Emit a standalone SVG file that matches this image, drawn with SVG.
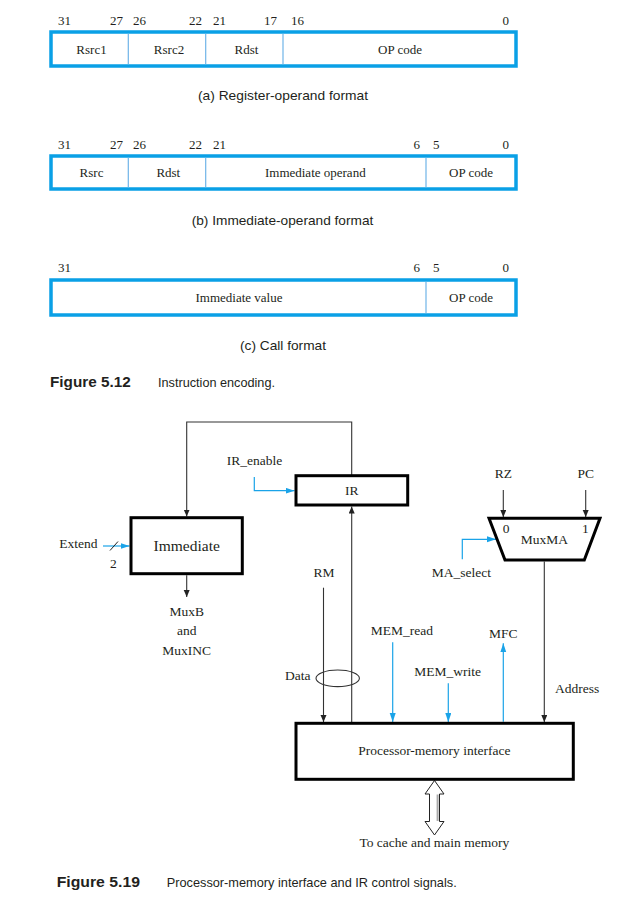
<svg xmlns="http://www.w3.org/2000/svg" width="621" height="901" viewBox="0 0 621 901">
<style>
.s{font-family:"Liberation Serif","Times New Roman",serif;font-size:13px;fill:#231f20}
.l{font-family:"Liberation Serif","Times New Roman",serif;font-size:13.5px;fill:#231f20}
.c{font-family:"Liberation Sans",Arial,sans-serif;font-size:13.5px;fill:#231f20}
.fb{font-family:"Liberation Sans",Arial,sans-serif;font-size:15px;font-weight:bold;fill:#231f20}
.ft{font-family:"Liberation Sans",Arial,sans-serif;font-size:13px;fill:#231f20}
.fmt{fill:#fff;stroke:#0aa0e6;stroke-width:3.5}
.div{stroke:#6fb4e8;stroke-width:1.2}
.box{fill:#fff;stroke:#000;stroke-width:3}
.w{fill:none;stroke:#333;stroke-width:1.1}
.b{fill:none;stroke:#1aa3e8;stroke-width:1.2}
</style>
<defs>
<marker id="ak" markerUnits="userSpaceOnUse" markerWidth="7" markerHeight="7" refX="7" refY="3" orient="auto"><path d="M0,0 L7,3 L0,6 z" fill="#222"/></marker>
<marker id="ab" markerUnits="userSpaceOnUse" markerWidth="9" markerHeight="7" refX="9" refY="3" orient="auto"><path d="M0,0 L9,3 L0,6 z" fill="#1aa3e8"/></marker>
</defs>

<g id="format-a">
<text class="s" x="58" y="25">31</text>
<text class="s" x="123" y="25" text-anchor="end">27</text>
<text class="s" x="133" y="25">26</text>
<text class="s" x="202" y="25" text-anchor="end">22</text>
<text class="s" x="213" y="25">21</text>
<text class="s" x="277" y="25" text-anchor="end">17</text>
<text class="s" x="291" y="25">16</text>
<text class="s" x="509" y="25" text-anchor="end">0</text>
<rect class="fmt" x="51" y="32" width="465" height="34"/>
<line class="div" x1="128.3" y1="33.7" x2="128.3" y2="64.3"/>
<line class="div" x1="205.7" y1="33.7" x2="205.7" y2="64.3"/>
<line class="div" x1="283" y1="33.7" x2="283" y2="64.3"/>
<text class="s" x="91.5" y="53.5" text-anchor="middle">Rsrc1</text>
<text class="s" x="169" y="53.5" text-anchor="middle">Rsrc2</text>
<text class="s" x="246.5" y="53.5" text-anchor="middle">Rdst</text>
<text class="s" x="400" y="53.5" text-anchor="middle">OP code</text>
<text class="c" x="283" y="99.5" text-anchor="middle" textLength="170" lengthAdjust="spacingAndGlyphs">(a) Register-operand format</text>
</g>

<g id="format-b">
<text class="s" x="58" y="149">31</text>
<text class="s" x="123" y="149" text-anchor="end">27</text>
<text class="s" x="133" y="149">26</text>
<text class="s" x="202" y="149" text-anchor="end">22</text>
<text class="s" x="213" y="149">21</text>
<text class="s" x="420" y="149" text-anchor="end">6</text>
<text class="s" x="433" y="149">5</text>
<text class="s" x="509" y="149" text-anchor="end">0</text>
<rect class="fmt" x="51" y="156" width="465" height="33"/>
<line class="div" x1="128.3" y1="157.7" x2="128.3" y2="187.3"/>
<line class="div" x1="205.7" y1="157.7" x2="205.7" y2="187.3"/>
<line class="div" x1="426" y1="157.7" x2="426" y2="187.3"/>
<text class="s" x="91.5" y="177" text-anchor="middle">Rsrc</text>
<text class="s" x="168.3" y="177" text-anchor="middle">Rdst</text>
<text class="s" x="315.3" y="177" text-anchor="middle">Immediate operand</text>
<text class="s" x="471" y="177" text-anchor="middle">OP code</text>
<text class="c" x="282.5" y="225" text-anchor="middle" textLength="181.6" lengthAdjust="spacingAndGlyphs">(b) Immediate-operand format</text>
</g>

<g id="format-c">
<text class="s" x="58" y="272.3">31</text>
<text class="s" x="420" y="272.3" text-anchor="end">6</text>
<text class="s" x="433" y="272.3">5</text>
<text class="s" x="509" y="272.3" text-anchor="end">0</text>
<rect class="fmt" x="51" y="280" width="465" height="35"/>
<line class="div" x1="426" y1="281.7" x2="426" y2="313.3"/>
<text class="s" x="239" y="302" text-anchor="middle">Immediate value</text>
<text class="s" x="471" y="302" text-anchor="middle">OP code</text>
<text class="c" x="283" y="350" text-anchor="middle" textLength="86" lengthAdjust="spacingAndGlyphs">(c) Call format</text>
</g>

<g id="caption-512">
<text class="fb" x="50" y="387" textLength="80.7" lengthAdjust="spacingAndGlyphs">Figure 5.12</text>
<text class="ft" x="158" y="387" textLength="117" lengthAdjust="spacingAndGlyphs">Instruction encoding.</text>
</g>

<g id="connectors">
<path class="w" d="M351.7,475.7 V422 H186.7 V516.5" marker-end="url(#ak)"/>
<path class="w" d="M351.7,723 V506.5" marker-end="url(#ak)"/>
<path class="w" d="M186.7,575.3 V597" marker-end="url(#ak)"/>
<path class="b" d="M103,546 H129.5" marker-end="url(#ab)"/>
<line x1="110" y1="550.5" x2="118" y2="541.5" stroke="#222" stroke-width="1"/>
<path class="b" d="M254.3,477 V490.7 H294.5" marker-end="url(#ab)"/>
<path class="b" d="M462.3,559.3 V539.3 H496" marker-end="url(#ab)"/>
<path class="w" d="M503.3,490 V517" marker-end="url(#ak)"/>
<path class="w" d="M585.7,490 V517" marker-end="url(#ak)"/>
<path class="w" d="M544.3,561.5 V722" marker-end="url(#ak)"/>
<path class="b" d="M503.3,721.8 V643.3" marker-end="url(#ab)"/>
<path class="b" d="M392.7,642.3 V722" marker-end="url(#ab)"/>
<path class="b" d="M448.3,683.3 V722" marker-end="url(#ab)"/>
<path class="w" d="M323.5,587.7 V722" marker-end="url(#ak)" stroke="#555"/>
<ellipse cx="337.7" cy="678.3" rx="21.7" ry="8.3" fill="none" stroke="#333" stroke-width="1.1"/>
<polygon points="434.5,780.5 425,794 429.5,794 429.5,821.5 425,821.5 434.5,835 444,821.5 439.5,821.5 439.5,794 444,794" fill="#fff" stroke="#222" stroke-width="1"/>
<line x1="437.6" y1="794.5" x2="437.6" y2="821" stroke="#aaa" stroke-width="2"/>
</g>

<g id="ir">
<rect class="box" x="296" y="475.7" width="111.7" height="29.3"/>
<text class="l" x="351.7" y="495" text-anchor="middle">IR</text>
</g>
<g id="ir-enable"><text class="l" x="226.7" y="465">IR_enable</text></g>

<g id="immediate">
<rect class="box" x="131" y="517.7" width="111.3" height="56"/>
<text class="l" x="186.7" y="550.5" text-anchor="middle" style="font-size:15.5px">Immediate</text>
</g>
<g id="extend">
<text class="l" x="59.3" y="548">Extend</text>
<text class="l" x="113.3" y="568" text-anchor="middle">2</text>
</g>
<g id="muxb">
<text class="l" x="186.7" y="615.7" text-anchor="middle">MuxB</text>
<text class="l" x="186.7" y="634.5" text-anchor="middle">and</text>
<text class="l" x="186.7" y="655" text-anchor="middle">MuxINC</text>
</g>

<g id="muxma">
<polygon points="489,518.3 600,518.3 584.3,560 505,560" fill="#fff" stroke="#000" stroke-width="3" stroke-linejoin="miter"/>
<text class="l" x="502.7" y="533">0</text>
<text class="l" x="582" y="533">1</text>
<text class="l" x="544.3" y="543.5" text-anchor="middle">MuxMA</text>
</g>
<g id="rz"><text class="l" x="503.3" y="478.3" text-anchor="middle">RZ</text></g>
<g id="pc"><text class="l" x="585.7" y="478.3" text-anchor="middle">PC</text></g>
<g id="ma-select"><text class="l" x="431.7" y="577">MA_select</text></g>

<g id="rm"><text class="l" x="324" y="577" text-anchor="middle">RM</text></g>
<g id="data"><text class="l" x="285" y="680">Data</text></g>
<g id="mem-read"><text class="l" x="370.7" y="635">MEM_read</text></g>
<g id="mem-write"><text class="l" x="414.3" y="676">MEM_write</text></g>
<g id="mfc"><text class="l" x="503.3" y="638" text-anchor="middle">MFC</text></g>
<g id="address"><text class="l" x="555" y="693">Address</text></g>

<g id="interface">
<rect class="box" x="296" y="723.3" width="277.3" height="56"/>
<text class="l" x="434.3" y="755" text-anchor="middle">Processor-memory interface</text>
</g>
<g id="memory"><text class="l" x="434.3" y="847" text-anchor="middle">To cache and main memory</text></g>

<g id="caption-519">
<text class="fb" x="56.7" y="887" textLength="83.3" lengthAdjust="spacingAndGlyphs">Figure 5.19</text>
<text class="ft" x="166.7" y="887" textLength="290" lengthAdjust="spacingAndGlyphs">Processor-memory interface and IR control signals.</text>
</g>
</svg>
